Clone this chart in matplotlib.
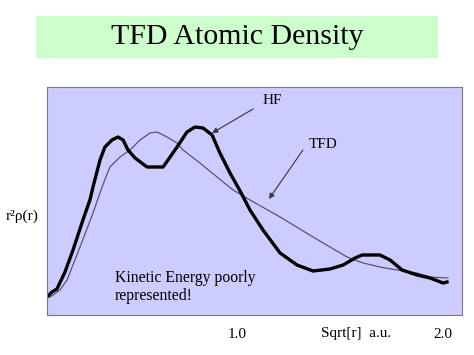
import matplotlib
matplotlib.use("Agg")
import matplotlib.pyplot as plt
from matplotlib.patches import Rectangle

plt.rcParams['font.family'] = ['Liberation Serif', 'DejaVu Serif']

# HF (thick) curve, x in Sqrt[r] a.u., y arbitrary units
hf_x = [0.078, 0.102, 0.126, 0.165, 0.204, 0.252, 0.286, 0.301, 0.335, 0.359, 0.393,
        0.422, 0.447, 0.471, 0.505, 0.563, 0.641, 0.665, 0.709, 0.757, 0.796, 0.835,
        0.879, 0.917, 0.966, 1.015, 1.063, 1.126, 1.209, 1.291, 1.369, 1.451, 1.515,
        1.573, 1.607, 1.694, 1.743, 1.801, 1.874, 1.937, 2.000, 2.019]
hf_y = [0.18, 0.23, 0.26, 0.43, 0.65, 0.95, 1.15, 1.28, 1.55, 1.68, 1.75,
        1.78, 1.75, 1.65, 1.57, 1.48, 1.48, 1.55, 1.68, 1.83, 1.88, 1.87,
        1.80, 1.62, 1.42, 1.24, 1.05, 0.85, 0.62, 0.50, 0.44, 0.46, 0.50,
        0.57, 0.60, 0.60, 0.55, 0.45, 0.40, 0.37, 0.32, 0.33]

# TFD (thin) curve
tfd_x = [0.092, 0.107, 0.141, 0.175, 0.238, 0.301, 0.345, 0.383, 0.432, 0.481, 0.529,
         0.578, 0.612, 0.660, 0.709, 0.738, 0.820, 0.903, 0.981, 1.063, 1.209, 1.369,
         1.534, 1.612, 1.694, 1.777, 1.874, 1.937, 2.024]
tfd_y = [0.18, 0.20, 0.25, 0.35, 0.68, 1.02, 1.28, 1.48, 1.58, 1.65, 1.75,
         1.82, 1.83, 1.78, 1.72, 1.65, 1.52, 1.38, 1.25, 1.15, 0.98, 0.78,
         0.58, 0.52, 0.48, 0.45, 0.42, 0.38, 0.37]

tick_pos = [1.0, 1.58, 2.0]
tick_labels = ['1.0', 'Sqrt[r]  a.u.', '2.0']

fig = plt.figure(figsize=(4.74, 3.55), dpi=100)
fig.patch.set_facecolor('white')

# title banner
fig.patches.append(Rectangle((0.076, 0.8366), 0.848, 0.1183, transform=fig.transFigure,
                             facecolor='#ccffcc', edgecolor='none'))
fig.text(0.5, 1 - 37 / 355, 'TFD Atomic Density', ha='center', va='center', fontsize=21.5)

ax = fig.add_axes([47 / 474, 1 - 315 / 355, 415 / 474, 228 / 355])
ax.set_facecolor('#ccccff')
for s in ax.spines.values():
    s.set_color('#777788')
    s.set_linewidth(0.8)

ax.plot(tfd_x, tfd_y, color='#555570', lw=0.9)
ax.plot(hf_x, hf_y, color='black', lw=2.4, solid_joinstyle='round')

ax.set_xlim(0.0777, 2.092)
ax.set_ylim(0, 2.28)
ax.set_yticks([])
ax.set_xticks(tick_pos)
ax.set_xticklabels(tick_labels, fontsize=11)
ax.tick_params(axis='x', length=0, pad=9)

arrow = dict(arrowstyle='-|>', lw=0.8, color='#333344', mutation_scale=8, shrinkA=0, shrinkB=0)
ax.annotate('', xy=(0.879, 1.82), xytext=(1.078, 2.06), arrowprops=arrow)
ax.annotate('', xy=(1.155, 1.16), xytext=(1.320, 1.65), arrowprops=arrow)
ax.text(1.170, 2.14, 'HF', ha='center', va='center', fontsize=11)
ax.text(1.417, 1.70, 'TFD', ha='center', va='center', fontsize=11)
ax.text(0.408, 0.37, 'Kinetic Energy poorly', ha='left', va='center', fontsize=11.3)
ax.text(0.408, 0.19, 'represented!', ha='left', va='center', fontsize=11.3)

fig.text(22 / 474, 1 - 216 / 355, 'r²ρ(r)', ha='center', va='center', fontsize=11)

fig.savefig('out.png', dpi=100)
